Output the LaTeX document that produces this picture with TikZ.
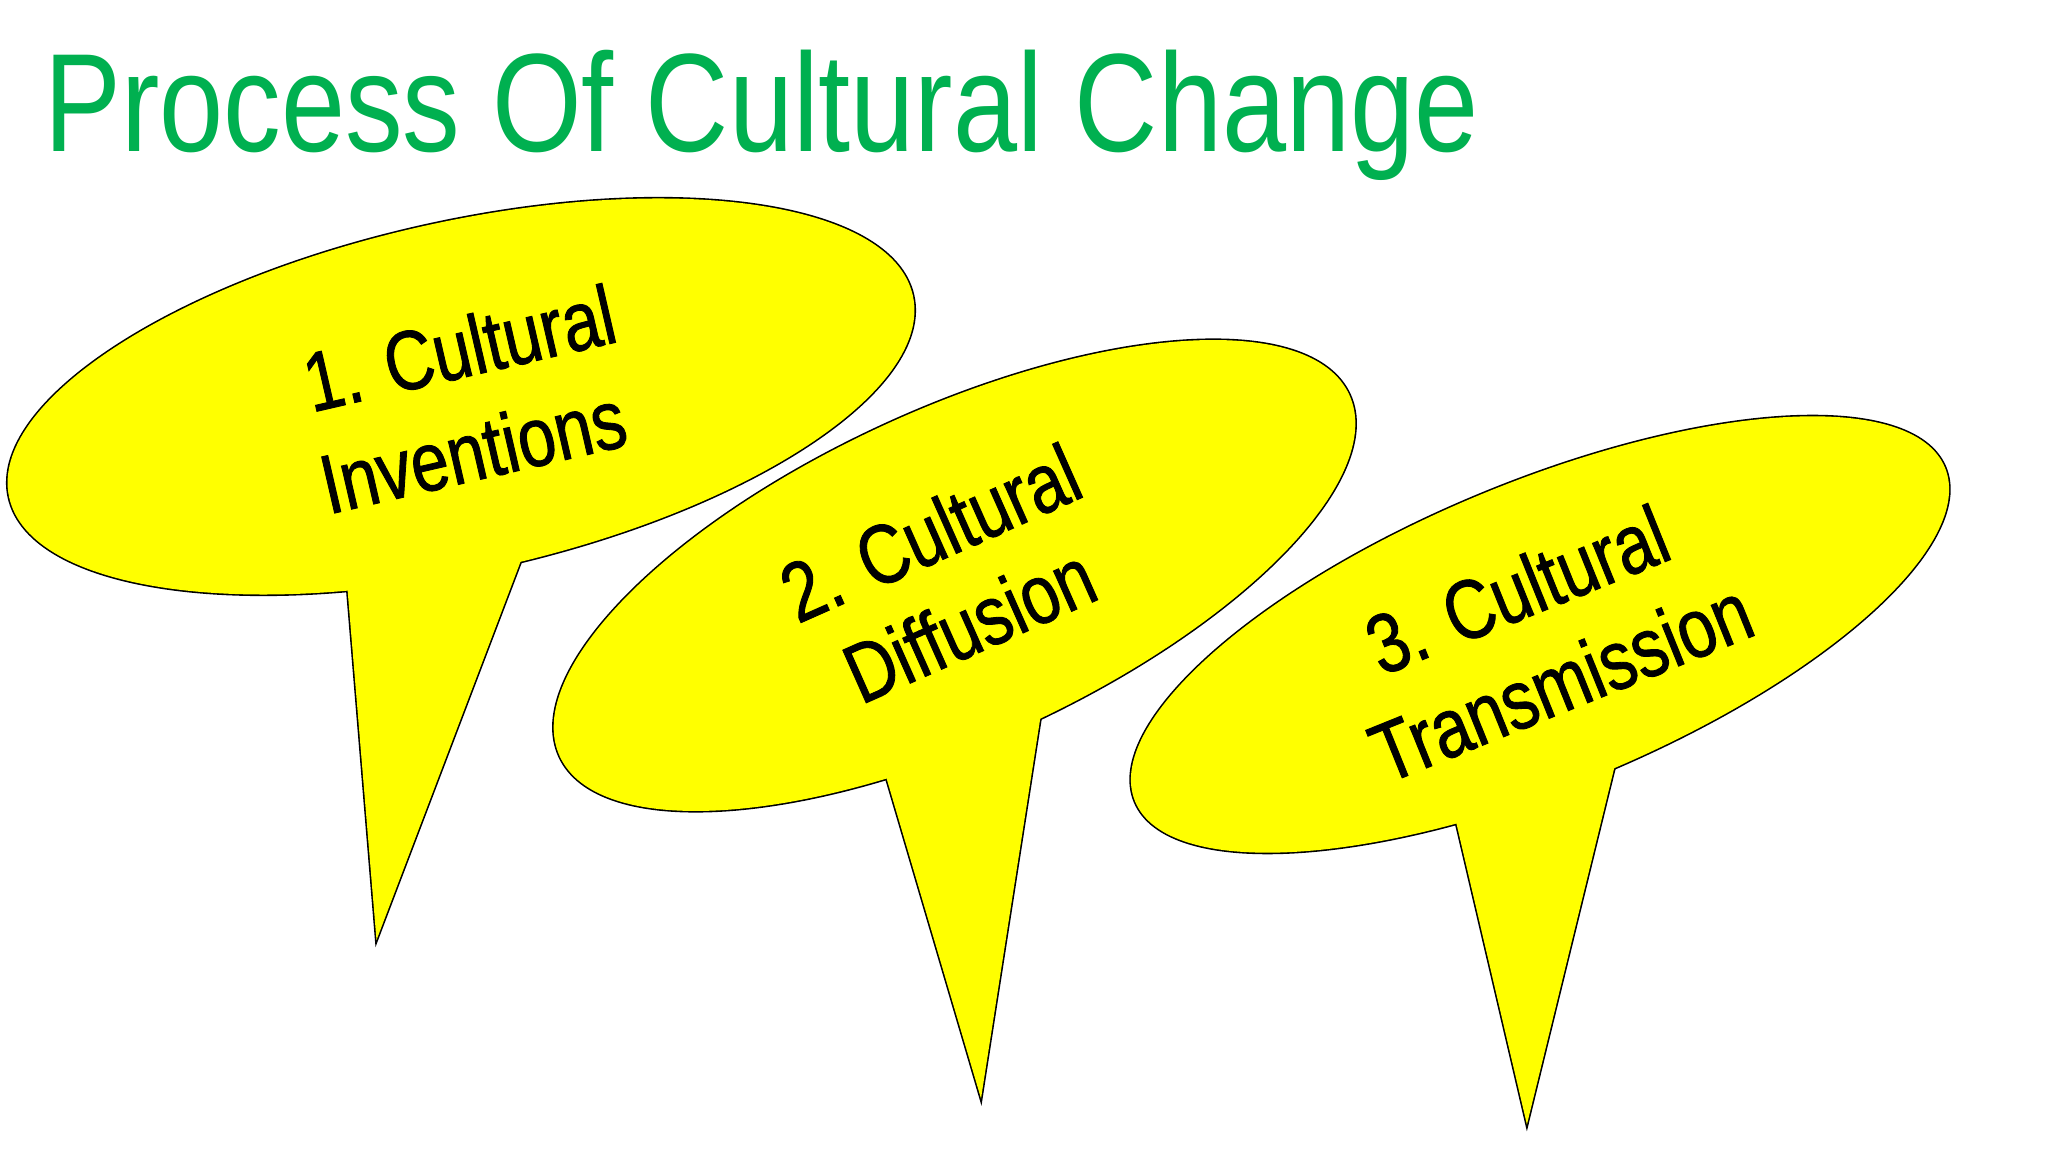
\documentclass[tikz,border=0pt]{standalone}
\usepackage{fontspec}
\setmainfont{Liberation Sans}
\newfontfamily\titlefont[FakeStretch=0.823]{Liberation Sans}
\newfontfamily\condfont[FakeStretch=0.81,FakeBold=1]{Liberation Sans}
\usetikzlibrary{calc}
\definecolor{titlegreen}{RGB}{0,176,80}
\definecolor{bubbleyellow}{RGB}{255,255,0}
\begin{document}
\begin{tikzpicture}[x=1pt,y=1pt,
  outline/.style={draw=black, line width=3.2pt, line join=miter},
  bfill/.style={fill=bubbleyellow},
  btext/.style={font=\condfont\fontsize{84}{100}\selectfont, anchor=base, inner sep=0pt, text=black},
  ttext/.style={font=\titlefont\fontsize{140}{168}\selectfont, text=titlegreen, anchor=base west, inner sep=0pt}]
\useasboundingbox (0,0) rectangle (2048,1152);
\fill[white] (0,0) rectangle (2048,1152);

\node[ttext] (title) at (44,1000.3) {Process Of Cultural Change};

% ---------- bubble 1 ----------
\coordinate (c1) at (461,755.5);
\coordinate (t1a) at (347.7,560.6);
\coordinate (t1tip) at (376.5,212);
\coordinate (t1b) at (520.4,590);
\coordinate (t1ae) at ($(t1tip)!1.35!(t1a)$);
\coordinate (t1be) at ($(t1tip)!1.35!(t1b)$);
\path[outline, shift={(c1)}, rotate=12.6] (0,0) ellipse [x radius=463, y radius=174.5];
\path[outline] (t1ae) -- (t1tip) -- (t1be);
\path[bfill, shift={(c1)}, rotate=12.6] (0,0) ellipse [x radius=463, y radius=174.5];
\path[bfill] (t1ae) -- (t1tip) -- (t1be) -- cycle;
\node[btext, rotate=13] (b1l1) at (466,775) {1. Cultural};
\node[btext, rotate=13] (b1l2) at (479.6,672.3) {Inventions};

% ---------- bubble 2 ----------
\coordinate (c2) at (954.5,576.5);
\coordinate (t2a) at (886.8,372.8);
\coordinate (t2tip) at (981,53.5);
\coordinate (t2b) at (1040.3,434);
\coordinate (t2ae) at ($(t2tip)!1.35!(t2a)$);
\coordinate (t2be) at ($(t2tip)!1.35!(t2b)$);
\path[outline, shift={(c2)}, rotate=24.6] (0,0) ellipse [x radius=434.2, y radius=166];
\path[outline] (t2ae) -- (t2tip) -- (t2be);
\path[bfill, shift={(c2)}, rotate=24.6] (0,0) ellipse [x radius=434.2, y radius=166];
\path[bfill] (t2ae) -- (t2tip) -- (t2be) -- cycle;
\node[btext, rotate=24] (b2l1) at (942.4,592.2) {2. Cultural};
\node[btext, rotate=24] (b2l2) at (981.5,500.4) {Diffusion};

% ---------- bubble 3 ----------
\coordinate (c3) at (1540,517.5);
\coordinate (t3a) at (1456.7,327.3);
\coordinate (t3tip) at (1526.9,27.5);
\coordinate (t3b) at (1613.6,381.5);
\coordinate (t3ae) at ($(t3tip)!1.35!(t3a)$);
\coordinate (t3be) at ($(t3tip)!1.35!(t3b)$);
\path[outline, shift={(c3)}, rotate=22.4] (0,0) ellipse [x radius=438, y radius=152];
\path[outline] (t3ae) -- (t3tip) -- (t3be);
\path[bfill, shift={(c3)}, rotate=22.4] (0,0) ellipse [x radius=438, y radius=152];
\path[bfill] (t3ae) -- (t3tip) -- (t3be) -- cycle;
\node[btext, rotate=22] (b3l1) at (1528.3,534.9) {3. Cultural};
\node[btext, rotate=22] (b3l2) at (1572.2,442.8) {Transmission};
\end{tikzpicture}
\end{document}
